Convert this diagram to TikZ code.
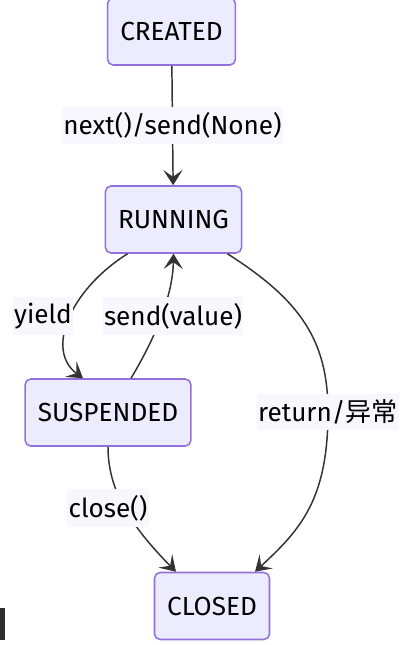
\documentclass[tikz,border=0pt]{standalone}
\usepackage{fontspec}
\setmainfont{Fira Sans}
\newfontfamily\cjk{Noto Sans CJK SC}
\usetikzlibrary{arrows.meta,positioning,calc}
\definecolor{statefill}{RGB}{236,236,255}
\definecolor{stateline}{RGB}{147,112,219}
\definecolor{edgeline}{RGB}{51,51,51}
\definecolor{edgebg}{RGB}{247,247,253}

\begin{document}
\begin{tikzpicture}[
    x=0.025cm, y=-0.025cm,
    every node/.style={font=\fontsize{18.6}{21}\selectfont},
    state/.style={draw=stateline, fill=statefill, line width=1.1pt, rounded corners=4pt,
        minimum height=1.675cm, inner xsep=9pt},
    edgelabel/.style={fill=edgebg, inner xsep=1pt, inner ysep=4pt},
    arrow/.style={-{Stealth[length=3.8mm, width=4.8mm, inset=1.7mm]}, draw=edgeline, line width=1.05pt},
]

\useasboundingbox (0,0) rectangle (407,645);

% States
\node[state] (created) at (171.5,31.5) {CREATED};
\node[state] (running) at (173.5,219.5) {RUNNING};
\node[state] (suspended) at (108,412.5) {SUSPENDED};
\node[state] (closed) at (212,606) {CLOSED};

% Transitions
\draw[arrow] (created) -- (running)
    node[edgelabel, midway] {next()/send(None)};

\draw[arrow] ($(running.south)+(-46,0)$) .. controls (70,290) and (45,350) .. ($(suspended.north)+(-25,0)$);
\node[edgelabel] (yieldlbl) at (43,316) {yield};

\draw[arrow] ($(suspended.north)+(23,0)$) .. controls (160,330) and (173,290) .. (running.south);
\node[edgelabel] (sendlbl) at (173,316) {send(value)};

\draw[arrow] ($(running.south)+(54,0)$) .. controls (300,300) and (328,340) .. (328,412)
    .. controls (328,500) and (300,530) .. ($(closed.north)+(43,0)$);
\node[edgelabel] (returnlbl) at (328,412) {return/{\cjk 异常}};

\draw[arrow] (suspended.south) .. controls (108,490) and (130,525) .. ($(closed.north)+(-36,0)$);
\node[edgelabel] (closelbl) at (108,508) {close()};

% Edge of screenshot
\fill[edgeline!90!black] (0,608) rectangle (5,640);

\end{tikzpicture}
\end{document}
